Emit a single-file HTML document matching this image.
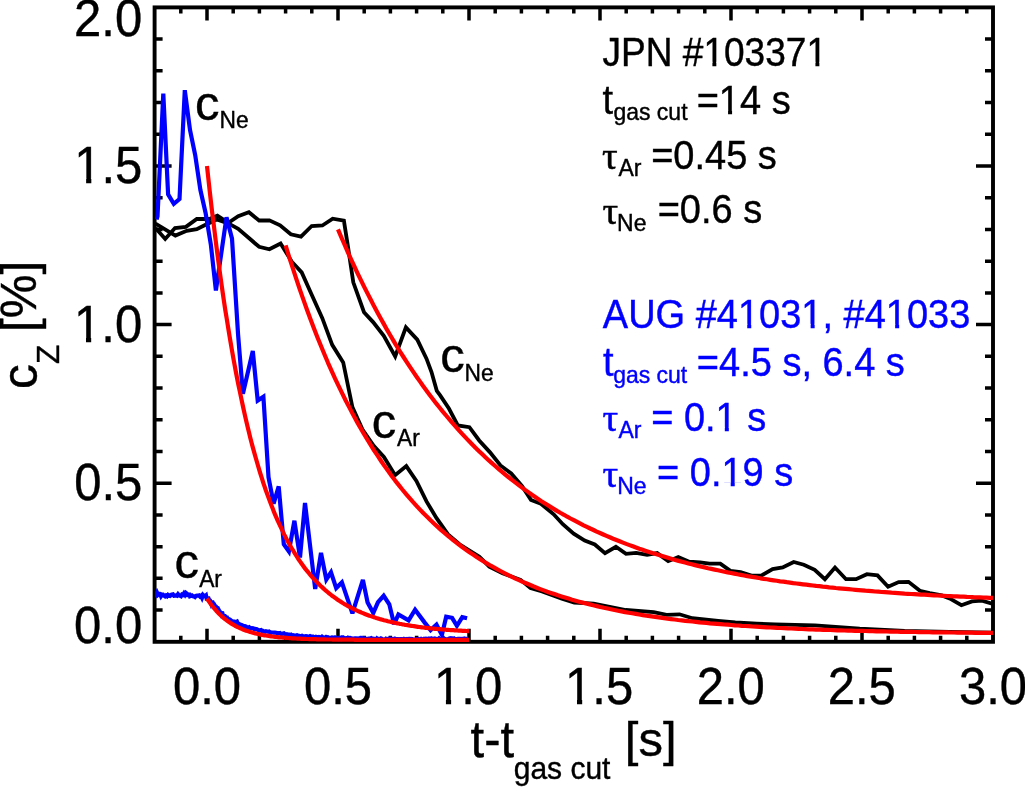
<!DOCTYPE html>
<html><head><meta charset="utf-8"><style>
html,body{margin:0;padding:0;background:#fff;overflow:hidden;}
svg{display:block;will-change:transform;}
text{font-family:"Liberation Sans", sans-serif;}
</style></head><body>
<svg width="1025" height="787" viewBox="0 0 1025 787">
<defs><clipPath id="plotclip"><rect x="155" y="7" width="838" height="635"/></clipPath></defs>
<rect width="1025" height="787" fill="#fff"/>
<path d="M180.80 641.80V635.80M180.80 7.40V13.40M207.00 641.80V628.80M207.00 7.40V20.40M233.20 641.80V635.80M233.20 7.40V13.40M259.40 641.80V635.80M259.40 7.40V13.40M285.60 641.80V635.80M285.60 7.40V13.40M311.80 641.80V635.80M311.80 7.40V13.40M338.00 641.80V628.80M338.00 7.40V20.40M364.20 641.80V635.80M364.20 7.40V13.40M390.40 641.80V635.80M390.40 7.40V13.40M416.60 641.80V635.80M416.60 7.40V13.40M442.80 641.80V635.80M442.80 7.40V13.40M469.00 641.80V628.80M469.00 7.40V20.40M495.20 641.80V635.80M495.20 7.40V13.40M521.40 641.80V635.80M521.40 7.40V13.40M547.60 641.80V635.80M547.60 7.40V13.40M573.80 641.80V635.80M573.80 7.40V13.40M600.00 641.80V628.80M600.00 7.40V20.40M626.20 641.80V635.80M626.20 7.40V13.40M652.40 641.80V635.80M652.40 7.40V13.40M678.60 641.80V635.80M678.60 7.40V13.40M704.80 641.80V635.80M704.80 7.40V13.40M731.00 641.80V628.80M731.00 7.40V20.40M757.20 641.80V635.80M757.20 7.40V13.40M783.40 641.80V635.80M783.40 7.40V13.40M809.60 641.80V635.80M809.60 7.40V13.40M835.80 641.80V635.80M835.80 7.40V13.40M862.00 641.80V628.80M862.00 7.40V20.40M888.20 641.80V635.80M888.20 7.40V13.40M914.40 641.80V635.80M914.40 7.40V13.40M940.60 641.80V635.80M940.60 7.40V13.40M966.80 641.80V635.80M966.80 7.40V13.40M154.60 610.08H162.60M993.00 610.08H985.00M154.60 578.36H162.60M993.00 578.36H985.00M154.60 546.64H162.60M993.00 546.64H985.00M154.60 514.92H162.60M993.00 514.92H985.00M154.60 483.20H171.60M993.00 483.20H976.00M154.60 451.48H162.60M993.00 451.48H985.00M154.60 419.76H162.60M993.00 419.76H985.00M154.60 388.04H162.60M993.00 388.04H985.00M154.60 356.32H162.60M993.00 356.32H985.00M154.60 324.60H171.60M993.00 324.60H976.00M154.60 292.88H162.60M993.00 292.88H985.00M154.60 261.16H162.60M993.00 261.16H985.00M154.60 229.44H162.60M993.00 229.44H985.00M154.60 197.72H162.60M993.00 197.72H985.00M154.60 166.00H171.60M993.00 166.00H976.00M154.60 134.28H162.60M993.00 134.28H985.00M154.60 102.56H162.60M993.00 102.56H985.00M154.60 70.84H162.60M993.00 70.84H985.00M154.60 39.12H162.60M993.00 39.12H985.00" stroke="#000" stroke-width="3.5" fill="none"/>
<rect x="154.60" y="7.40" width="838.40" height="634.40" stroke="#000" stroke-width="3.9" fill="none"/>
<text transform="translate(74.10,35.50) scale(1.0,1.04)" font-size="49" fill="#000"  stroke="#000" stroke-width="0.4">2.0</text>
<text transform="translate(74.24,182.90) scale(1.0,1.04)" font-size="49" fill="#000"  stroke="#000" stroke-width="0.4">1.5</text><g transform="translate(74.24,182.90) scale(1.0,1.04)"><rect x="1.91" y="-4.43" width="9.98" height="7.90" fill="#fff"/><rect x="17.08" y="-4.43" width="9.71" height="7.90" fill="#fff"/></g>
<text transform="translate(74.10,341.50) scale(1.0,1.04)" font-size="49" fill="#000"  stroke="#000" stroke-width="0.4">1.0</text><g transform="translate(74.10,341.50) scale(1.0,1.04)"><rect x="1.91" y="-4.43" width="9.98" height="7.90" fill="#fff"/><rect x="17.08" y="-4.43" width="9.71" height="7.90" fill="#fff"/></g>
<text transform="translate(74.24,500.10) scale(1.0,1.04)" font-size="49" fill="#000"  stroke="#000" stroke-width="0.4">0.5</text>
<text transform="translate(74.10,642.90) scale(1.0,1.04)" font-size="49" fill="#000"  stroke="#000" stroke-width="0.4">0.0</text>
<text transform="translate(172.94,704.20) scale(1.0,1.055)" font-size="49" fill="#000"  stroke="#000" stroke-width="0.4">0.0</text>
<text transform="translate(304.01,704.20) scale(1.0,1.055)" font-size="49" fill="#000"  stroke="#000" stroke-width="0.4">0.5</text>
<text transform="translate(434.03,704.20) scale(1.0,1.055)" font-size="49" fill="#000"  stroke="#000" stroke-width="0.4">1.0</text><g transform="translate(434.03,704.20) scale(1.0,1.055)"><rect x="1.91" y="-4.43" width="9.98" height="7.90" fill="#fff"/><rect x="17.08" y="-4.43" width="9.71" height="7.90" fill="#fff"/></g>
<text transform="translate(565.10,704.20) scale(1.0,1.055)" font-size="49" fill="#000"  stroke="#000" stroke-width="0.4">1.5</text><g transform="translate(565.10,704.20) scale(1.0,1.055)"><rect x="1.91" y="-4.43" width="9.98" height="7.90" fill="#fff"/><rect x="17.08" y="-4.43" width="9.71" height="7.90" fill="#fff"/></g>
<text transform="translate(696.67,704.20) scale(1.0,1.055)" font-size="49" fill="#000"  stroke="#000" stroke-width="0.4">2.0</text>
<text transform="translate(827.74,704.20) scale(1.0,1.055)" font-size="49" fill="#000"  stroke="#000" stroke-width="0.4">2.5</text>
<text transform="translate(958.97,704.20) scale(1.0,1.055)" font-size="49" fill="#000"  stroke="#000" stroke-width="0.4">3.0</text>
<text transform="translate(470.56,756.50) scale(1.0,1.05)" font-size="49" fill="#000"  stroke="#000" stroke-width="0.4">t-t</text>
<text transform="translate(513.74,778.80) scale(1.0,1.03)" font-size="30" fill="#000"  stroke="#000" stroke-width="0.4">gas cut</text>
<text transform="translate(624.81,755.80) scale(1.0,1.0)" font-size="49" fill="#000"  stroke="#000" stroke-width="0.4">[s]</text>
<text transform="translate(36.60,388.90) rotate(-90) scale(1.0,1.02)" font-size="49.5" stroke="#000" stroke-width="0.4">c</text>
<text transform="translate(59.20,363.90) rotate(-90) scale(1.0,1.02)" font-size="31.5" stroke="#000" stroke-width="0.4">Z</text>
<text transform="translate(35.80,331.91) rotate(-90) scale(1.0,1.0)" font-size="49.3" stroke="#000" stroke-width="0.4">[%]</text>
<text transform="translate(602.52,65.50) scale(0.975,1.075)" font-size="38" fill="#000"  stroke="#000" stroke-width="0.4">JPN #103371</text><g transform="translate(602.52,65.50) scale(0.975,1.075)"><rect x="104.96" y="-3.43" width="7.74" height="6.12" fill="#fff"/><rect x="116.73" y="-3.43" width="7.53" height="6.12" fill="#fff"/><rect x="210.63" y="-3.43" width="7.74" height="6.12" fill="#fff"/><rect x="222.40" y="-3.43" width="7.53" height="6.12" fill="#fff"/></g>
<text transform="translate(602.52,113.50) scale(1.0,1.075)" font-size="38" fill="#000"  stroke="#000" stroke-width="0.4">t</text>
<text transform="translate(613.43,120.40) scale(1.0,1.07)" font-size="23" fill="#000"  stroke="#000" stroke-width="0.4">gas cut</text>
<text transform="translate(696.64,113.50) scale(1.0,1.075)" font-size="38" fill="#000"  stroke="#000" stroke-width="0.4">=14 s</text><g transform="translate(696.64,113.50) scale(1.0,1.075)"><rect x="23.68" y="-3.43" width="7.74" height="6.12" fill="#fff"/><rect x="35.44" y="-3.43" width="7.53" height="6.12" fill="#fff"/></g>
<text transform="translate(601.94,169.00) scale(1.0,0.97)" font-size="39" fill="#000" style="font-family:'Liberation Serif', serif" stroke="#000" stroke-width="0.5">τ</text>
<text transform="translate(618.46,175.90) scale(1.0,1.07)" font-size="23" fill="#000"  stroke="#000" stroke-width="0.4">Ar</text>
<text transform="translate(651.14,168.50) scale(1.0,1.075)" font-size="38" fill="#000"  stroke="#000" stroke-width="0.4">=0.45 s</text>
<text transform="translate(602.44,223.80) scale(1.0,0.97)" font-size="39" fill="#000" style="font-family:'Liberation Serif', serif" stroke="#000" stroke-width="0.5">τ</text>
<text transform="translate(617.11,230.80) scale(1.0,1.07)" font-size="23" fill="#000"  stroke="#000" stroke-width="0.4">Ne</text>
<text transform="translate(657.64,223.30) scale(1.0,1.075)" font-size="38" fill="#000"  stroke="#000" stroke-width="0.4">=0.6 s</text>
<text transform="translate(602.83,327.50) scale(1.0,1.075)" font-size="38" fill="#0000ff"  stroke="#0000ff" stroke-width="0.4">AUG #41031, #41033</text><g transform="translate(602.83,327.50) scale(1.0,1.075)"><rect x="136.66" y="-3.43" width="7.74" height="6.12" fill="#fff"/><rect x="148.42" y="-3.43" width="7.53" height="6.12" fill="#fff"/><rect x="200.06" y="-3.43" width="7.74" height="6.12" fill="#fff"/><rect x="211.82" y="-3.43" width="7.53" height="6.12" fill="#fff"/><rect x="284.57" y="-3.43" width="7.74" height="6.12" fill="#fff"/><rect x="296.34" y="-3.43" width="7.53" height="6.12" fill="#fff"/></g>
<text transform="translate(602.92,376.00) scale(1.0,1.075)" font-size="38" fill="#0000ff"  stroke="#0000ff" stroke-width="0.4">t</text>
<text transform="translate(613.13,382.80) scale(1.0,1.07)" font-size="23" fill="#0000ff"  stroke="#0000ff" stroke-width="0.4">gas cut</text>
<text transform="translate(696.84,375.70) scale(1.0,1.075)" font-size="38" fill="#0000ff"  stroke="#0000ff" stroke-width="0.4">=4.5 s, 6.4 s</text>
<text transform="translate(602.44,431.30) scale(1.0,0.97)" font-size="39" fill="#0000ff" style="font-family:'Liberation Serif', serif" stroke="#0000ff" stroke-width="0.5">τ</text>
<text transform="translate(618.46,438.30) scale(1.0,1.07)" font-size="23" fill="#0000ff"  stroke="#0000ff" stroke-width="0.4">Ar</text>
<text transform="translate(651.14,430.60) scale(1.0,1.075)" font-size="38" fill="#0000ff"  stroke="#0000ff" stroke-width="0.4">= 0.1 s</text><g transform="translate(651.14,430.60) scale(1.0,1.075)"><rect x="65.92" y="-3.43" width="7.74" height="6.12" fill="#fff"/><rect x="77.69" y="-3.43" width="7.53" height="6.12" fill="#fff"/></g>
<text transform="translate(602.44,486.90) scale(1.0,0.97)" font-size="39" fill="#0000ff" style="font-family:'Liberation Serif', serif" stroke="#0000ff" stroke-width="0.5">τ</text>
<text transform="translate(617.21,493.80) scale(1.0,1.07)" font-size="23" fill="#0000ff"  stroke="#0000ff" stroke-width="0.4">Ne</text>
<text transform="translate(657.04,486.20) scale(1.0,1.075)" font-size="38" fill="#0000ff"  stroke="#0000ff" stroke-width="0.4">= 0.19 s</text><g transform="translate(657.04,486.20) scale(1.0,1.075)"><rect x="65.92" y="-3.43" width="7.74" height="6.12" fill="#fff"/><rect x="77.69" y="-3.43" width="7.53" height="6.12" fill="#fff"/></g>
<text transform="translate(194.92,120.00) scale(1.0,1.0)" font-size="49.0" fill="#000"  stroke="#000" stroke-width="0.4">c</text>
<text transform="translate(219.43,128.40) scale(1.0,1.05)" font-size="22.8" fill="#000"  stroke="#000" stroke-width="0.4">Ne</text>
<text transform="translate(440.22,372.30) scale(1.0,1.0)" font-size="49.0" fill="#000"  stroke="#000" stroke-width="0.4">c</text>
<text transform="translate(464.43,381.10) scale(1.0,1.05)" font-size="22.8" fill="#000"  stroke="#000" stroke-width="0.4">Ne</text>
<text transform="translate(371.82,437.60) scale(1.0,1.0)" font-size="49.0" fill="#000"  stroke="#000" stroke-width="0.4">c</text>
<text transform="translate(396.96,446.40) scale(1.0,1.05)" font-size="22.8" fill="#000"  stroke="#000" stroke-width="0.4">Ar</text>
<text transform="translate(174.42,578.20) scale(1.0,1.0)" font-size="49.0" fill="#000"  stroke="#000" stroke-width="0.4">c</text>
<text transform="translate(199.16,586.80) scale(1.0,1.05)" font-size="22.8" fill="#000"  stroke="#000" stroke-width="0.4">Ar</text>
<g clip-path="url(#plotclip)"><path d="M155.5 228.0 L165.2 239.0 L175.0 228.0 L185.9 226.9 L196.8 219.0 L209.3 219.0 L217.4 215.7 L228.4 222.8 L238.2 216.1 L248.9 212.2 L259.1 220.5 L269.4 220.3 L280.1 225.4 L290.8 234.3 L301.0 236.7 L311.7 226.0 L322.4 225.5 L332.7 218.7 L343.9 220.6 L348.3 248.9 L353.3 282.4 L364.0 312.2 L373.1 322.1 L383.8 335.8 L395.2 356.4 L405.9 327.4 L417.3 339.6 L426.5 358.7 L431.5 372.0 L436.8 390.8 L440.0 395.1 L448.9 408.5 L457.8 425.4 L469.4 427.2 L479.2 440.5 L489.8 452.1 L500.5 465.4 L511.2 473.4 L521.9 485.9 L531.0 499.9 L540.9 503.8 L553.7 514.3 L562.8 524.2 L573.7 533.6 L584.7 540.6 L594.8 544.5 L605.0 553.1 L615.9 546.8 L626.0 553.9 L636.2 552.8 L647.1 554.9 L657.2 553.1 L668.2 561.2 L678.3 557.0 L689.2 561.7 L700.2 562.4 L709.4 563.6 L720.3 563.6 L730.4 570.9 L740.6 572.1 L751.5 575.6 L761.7 575.3 L772.6 569.0 L782.7 567.5 L793.7 562.0 L803.8 564.7 L814.7 569.8 L824.9 579.2 L835.0 567.5 L846.0 579.2 L856.1 579.2 L866.9 574.2 L877.5 575.4 L888.1 586.7 L898.7 582.1 L908.5 581.8 L919.9 590.8 L929.7 593.1 L941.8 595.4 L950.9 599.1 L961.4 605.2 L972.0 601.4 L981.9 600.7 L993.0 603.9" stroke="#000" stroke-width="3.8" fill="none" stroke-linejoin="miter" stroke-miterlimit="3" />
<path d="M155.5 223.6 L175.4 235.6 L186.7 230.8 L196.8 229.2 L204.6 225.3 L210.9 222.2 L216.7 219.5 L228.4 223.4 L238.2 228.8 L248.9 238.0 L259.1 246.8 L269.4 249.3 L280.6 243.5 L291.8 261.7 L301.7 272.4 L311.6 294.5 L322.3 318.1 L332.2 344.8 L343.2 362.4 L352.4 407.1 L362.5 429.5 L373.7 445.8 L383.9 456.9 L395.1 475.2 L406.3 466.1 L416.4 481.0 L426.5 501.4 L436.4 517.9 L448.0 534.4 L459.5 544.3 L479.4 556.7 L489.3 566.6 L502.5 573.2 L520.6 579.8 L530.5 588.1 L542.1 591.4 L561.9 598.8 L574.3 602.5 L593.6 603.6 L625.8 610.0 L653.7 612.2 L666.6 614.8 L679.5 614.3 L692.4 618.2 L718.1 620.8 L735.3 622.5 L756.8 623.6 L775.0 624.4 L814.9 625.3 L859.7 628.7 L904.6 630.9 L949.5 632.0 L993.0 632.7" stroke="#000" stroke-width="3.8" fill="none" stroke-linejoin="miter" stroke-miterlimit="3" />
<path d="M156.6 219.5 L157.5 216.5 L163.3 93.7 L168.1 194.3 L173.8 203.8 L179.5 199.0 L184.8 90.2 L190.0 130.0 L195.2 155.0 L200.4 190.0 L205.6 213.0 L210.9 245.0 L215.9 290.4 L226.5 217.3 L232.0 238.6 L238.1 334.8 L242.9 393.8 L252.8 351.0 L257.7 400.5 L263.4 396.7 L268.5 477.2 L273.6 503.7 L278.7 486.4 L283.8 544.3 L288.9 551.4 L294.4 520.7 L300.0 557.5 L305.0 503.0 L315.2 589.0 L321.0 552.9 L326.3 579.5 L331.0 572.3 L336.2 588.1 L341.9 582.4 L352.4 613.4 L362.9 579.9 L367.6 602.4 L373.3 612.9 L378.0 602.2 L383.7 595.8 L389.3 604.3 L394.1 624.2 L398.4 614.5 L408.6 620.4 L415.1 609.7 L424.7 622.6 L430.6 630.1 L436.5 624.7 L441.9 634.9 L446.2 616.7 L452.1 617.8 L456.9 625.8 L462.3 617.2 L467.1 618.3" stroke="#0000ff" stroke-width="4.2" fill="none" stroke-linejoin="miter" stroke-miterlimit="3" />
<path d="M155.0 593.3 L156.0 594.6 L157.0 592.6 L158.0 594.7 L159.0 593.7 L160.0 593.9 L161.0 596.2 L162.0 594.7 L163.0 594.7 L164.0 595.7 L165.0 596.3 L166.0 595.4 L167.0 596.2 L168.0 594.9 L169.0 595.7 L170.0 595.9 L171.0 594.9 L172.0 594.6 L173.0 594.4 L174.0 595.7 L175.0 595.6 L176.0 595.4 L177.0 595.7 L178.0 594.2 L179.0 595.4 L180.0 595.7 L181.0 596.2 L182.0 594.5 L183.0 594.9 L184.0 593.3 L185.0 594.8 L186.0 593.0 L187.0 593.8 L188.0 596.4 L189.0 593.2 L190.0 596.3 L191.0 595.9 L192.0 595.4 L193.0 596.3 L194.0 596.4 L195.0 597.0 L196.0 595.9 L197.0 595.6 L198.0 595.7 L199.0 595.4 L200.0 596.4 L201.0 595.7 L202.0 597.7 L203.0 595.0 L204.0 596.0 L205.0 596.4 L206.0 595.5 L207.0 600.3 L208.0 596.9 L209.0 599.8 L210.0 600.4 L211.0 603.2 L212.0 600.7 L213.0 604.6 L214.0 604.2 L215.0 605.8 L216.0 606.6 L217.0 608.8 L218.0 608.5 L219.0 610.4 L220.0 611.8 L221.0 613.9 L222.0 611.7 L223.0 615.6 L224.0 616.2 L225.0 616.2 L226.0 617.4 L227.0 617.5 L228.0 619.6 L229.0 619.3 L230.0 619.7 L231.0 620.4 L232.0 621.1 L233.0 621.7 L234.0 621.7 L235.0 623.7 L236.0 622.0 L237.0 621.5 L238.0 623.6 L239.0 624.0 L240.0 624.6 L241.0 624.7 L242.0 625.1 L243.0 625.7 L244.0 626.3 L245.0 626.1 L246.0 626.5 L247.0 627.6 L248.0 627.4 L249.0 627.1 L250.0 628.6 L251.0 628.3 L252.0 628.1 L253.0 628.2 L254.0 629.0 L255.0 628.9 L256.0 629.1 L257.0 629.3 L258.0 629.9 L259.0 630.6 L260.0 630.2 L261.0 630.0 L262.0 631.0 L263.0 630.9 L264.0 631.4 L265.0 631.7 L266.0 631.3 L267.0 631.5 L268.0 631.7 L269.0 631.5 L270.0 632.3 L271.0 632.7 L272.0 632.5 L273.0 632.5 L274.0 632.7 L275.0 632.6 L276.0 632.8 L277.0 633.1 L278.0 633.1 L279.0 633.3 L280.0 633.1 L281.0 633.9 L282.0 633.9 L283.0 633.6 L284.0 633.3 L285.0 634.2 L286.0 634.8 L287.0 634.2 L288.0 634.5 L289.0 634.6 L290.0 635.1 L291.0 634.7 L292.0 635.5 L293.0 635.2 L294.0 635.7 L295.0 635.5 L296.0 635.5 L297.0 635.2 L298.0 635.5 L299.0 635.7 L300.0 636.1 L301.0 636.0 L302.0 635.8 L303.0 636.2 L304.0 636.5 L305.0 636.2 L306.0 636.1 L307.0 636.2 L308.0 636.7 L309.0 636.7 L310.0 636.2 L311.0 636.8 L312.0 636.5 L313.0 636.5 L314.0 637.3 L315.0 637.2 L316.0 636.7 L317.0 637.1 L318.0 637.3 L319.0 636.9 L320.0 637.2 L321.0 637.5 L322.0 636.7 L323.0 637.5 L324.0 637.7 L325.0 637.6 L326.0 637.0 L327.0 637.6 L328.0 637.3 L329.0 637.8 L330.0 637.9 L331.0 637.8 L332.0 637.5 L333.0 637.6 L334.0 638.1 L335.0 637.5 L336.0 638.1 L337.0 638.1 L338.0 637.9 L339.0 638.8 L340.0 638.1 L341.0 638.8 L342.0 637.4 L343.0 637.4 L344.0 638.5 L345.0 638.5 L346.0 638.2 L347.0 638.3 L348.0 637.7 L349.0 638.1 L350.0 638.0 L351.0 638.3 L352.0 638.7 L353.0 638.5 L354.0 638.6 L355.0 638.3 L356.0 638.4 L357.0 638.6 L358.0 638.5 L359.0 639.0 L360.0 638.3 L361.0 639.3 L362.0 638.3 L363.0 639.1 L364.0 638.5 L365.0 639.3 L366.0 638.8 L367.0 638.9 L368.0 639.1 L369.0 638.6 L370.0 638.5 L371.0 638.2 L372.0 639.4 L373.0 638.7 L374.0 638.8 L375.0 639.0 L376.0 639.7 L377.0 638.4 L378.0 639.1 L379.0 638.9 L380.0 639.2 L381.0 638.4 L382.0 638.9 L383.0 639.3 L384.0 639.6 L385.0 639.6 L386.0 638.7 L387.0 639.1 L388.0 639.0 L389.0 638.6 L390.0 638.6 L391.0 639.3 L392.0 639.2 L393.0 639.0 L394.0 639.5 L395.0 638.7 L396.0 639.3 L397.0 639.1 L398.0 639.1 L399.0 639.3 L400.0 639.2 L401.0 639.2 L402.0 639.2 L403.0 639.8 L404.0 639.0 L405.0 639.5 L406.0 639.4 L407.0 639.0 L408.0 639.4 L409.0 638.9 L410.0 639.6 L411.0 638.9 L412.0 639.0 L413.0 639.3 L414.0 639.5 L415.0 639.5 L416.0 639.5 L417.0 639.1 L418.0 638.9 L419.0 639.4 L420.0 639.3 L421.0 638.9 L422.0 639.5 L423.0 639.2 L424.0 638.8 L425.0 639.3 L426.0 638.7 L427.0 638.8 L428.0 639.3 L429.0 638.6 L430.0 639.1 L431.0 638.6 L432.0 639.4 L433.0 638.8 L434.0 639.1 L435.0 638.5 L436.0 638.9 L437.0 639.4 L438.0 639.2 L439.0 638.4 L440.0 639.4 L441.0 639.3 L442.0 638.9 L443.0 639.5 L444.0 638.6 L445.0 639.0 L446.0 639.4 L447.0 639.4 L448.0 639.4 L449.0 638.6 L450.0 638.3 L451.0 639.1 L452.0 638.4 L453.0 638.9 L454.0 638.5 L455.0 639.3 L456.0 639.2 L457.0 639.1 L458.0 638.9 L459.0 638.9 L460.0 638.8 L461.0 639.0 L462.0 638.9 L463.0 639.0 L464.0 638.7 L465.0 639.5 L466.0 638.9 L467.0 639.3 L468.0 639.3" stroke="#0000ff" stroke-width="4.2" fill="none" stroke-linejoin="miter" stroke-miterlimit="3" />
<path d="M207.0 166.0 L208.3 178.1 L209.6 190.0 L210.9 201.5 L212.2 212.7 L213.6 223.6 L214.9 234.3 L216.2 244.7 L217.5 254.8 L218.8 264.6 L220.1 274.2 L221.4 283.5 L222.7 292.6 L224.0 301.5 L225.3 310.1 L226.7 318.5 L228.0 326.7 L229.3 334.6 L230.6 342.4 L231.9 350.0 L233.2 357.3 L234.5 364.5 L235.8 371.5 L237.1 378.3 L238.4 384.9 L239.8 391.4 L241.1 397.7 L242.4 403.8 L243.7 409.8 L245.0 415.6 L246.3 421.2 L247.6 426.8 L248.9 432.1 L250.2 437.4 L251.5 442.5 L252.8 447.4 L254.2 452.3 L255.5 457.0 L256.8 461.5 L258.1 466.0 L259.4 470.4 L260.7 474.6 L262.0 478.7 L263.3 482.8 L264.6 486.7 L265.9 490.5 L267.3 494.2 L268.6 497.8 L269.9 501.3 L271.2 504.8 L272.5 508.1 L273.8 511.4 L275.1 514.6 L276.4 517.6 L277.7 520.7 L279.1 523.6 L280.4 526.4 L281.7 529.2 L283.0 531.9 L284.3 534.6 L285.6 537.1 L286.9 539.7 L288.2 542.1 L289.5 544.5 L290.8 546.8 L292.1 549.0 L293.5 551.2 L294.8 553.4 L296.1 555.4 L297.4 557.5 L298.7 559.5 L300.0 561.4 L301.3 563.3 L302.6 565.1 L303.9 566.9 L305.2 568.6 L306.6 570.3 L307.9 571.9 L309.2 573.5 L310.5 575.1 L311.8 576.6 L313.1 578.1 L314.4 579.5 L315.7 580.9 L317.0 582.3 L318.4 583.6 L319.7 584.9 L321.0 586.2 L322.3 587.4 L323.6 588.6 L324.9 589.8 L326.2 590.9 L327.5 592.0 L328.8 593.1 L330.1 594.2 L331.4 595.2 L332.8 596.2 L334.1 597.1 L335.4 598.1 L336.7 599.0 L338.0 599.9 L339.3 600.8 L340.6 601.6 L341.9 602.5 L343.2 603.3 L344.6 604.1 L345.9 604.8 L347.2 605.6 L348.5 606.3 L349.8 607.0 L351.1 607.7 L352.4 608.4 L353.7 609.0 L355.0 609.7 L356.3 610.3 L357.6 610.9 L359.0 611.5 L360.3 612.0 L361.6 612.6 L362.9 613.1 L364.2 613.7 L365.5 614.2 L366.8 614.7 L368.1 615.2 L369.4 615.7 L370.8 616.1 L372.1 616.6 L373.4 617.0 L374.7 617.4 L376.0 617.9 L377.3 618.3 L378.6 618.7 L379.9 619.1 L381.2 619.4 L382.5 619.8 L383.9 620.2 L385.2 620.5 L386.5 620.8 L387.8 621.2 L389.1 621.5 L390.4 621.8 L391.7 622.1 L393.0 622.4 L394.3 622.7 L395.6 623.0 L396.9 623.3 L398.3 623.5 L399.6 623.8 L400.9 624.0 L402.2 624.3 L403.5 624.5 L404.8 624.8 L406.1 625.0 L407.4 625.2 L408.7 625.4 L410.1 625.6 L411.4 625.8 L412.7 626.0 L414.0 626.2 L415.3 626.4 L416.6 626.6 L417.9 626.8 L419.2 627.0 L420.5 627.1 L421.8 627.3 L423.1 627.5 L424.5 627.6 L425.8 627.8 L427.1 627.9 L428.4 628.1 L429.7 628.2 L431.0 628.4 L432.3 628.5 L433.6 628.6 L434.9 628.8 L436.2 628.9 L437.6 629.0 L438.9 629.1 L440.2 629.2 L441.5 629.3 L442.8 629.5 L444.1 629.6 L445.4 629.7 L446.7 629.8 L448.0 629.9 L449.4 630.0 L450.7 630.1 L452.0 630.1 L453.3 630.2 L454.6 630.3 L455.9 630.4 L457.2 630.5 L458.5 630.6 L459.8 630.6 L461.1 630.7 L462.4 630.8 L463.8 630.9 L465.1 630.9 L466.4 631.0 L467.7 631.1 L469.0 631.1" stroke="#ff0000" stroke-width="4.2" fill="none" stroke-linejoin="round"/>
<path d="M207.0 598.5 L208.3 600.5 L209.6 602.4 L210.9 604.3 L212.2 606.0 L213.6 607.7 L214.9 609.2 L216.2 610.7 L217.5 612.1 L218.8 613.5 L220.1 614.8 L221.4 616.0 L222.7 617.2 L224.0 618.3 L225.3 619.3 L226.7 620.3 L228.0 621.3 L229.3 622.2 L230.6 623.1 L231.9 623.9 L233.2 624.7 L234.5 625.4 L235.8 626.1 L237.1 626.8 L238.4 627.4 L239.8 628.0 L241.1 628.6 L242.4 629.2 L243.7 629.7 L245.0 630.2 L246.3 630.7 L247.6 631.1 L248.9 631.5 L250.2 631.9 L251.5 632.3 L252.8 632.7 L254.2 633.1 L255.5 633.4 L256.8 633.7 L258.1 634.0 L259.4 634.3 L260.7 634.6 L262.0 634.8 L263.3 635.1 L264.6 635.3 L265.9 635.5 L267.3 635.7 L268.6 635.9 L269.9 636.1 L271.2 636.3 L272.5 636.5 L273.8 636.7 L275.1 636.8 L276.4 637.0 L277.7 637.1 L279.1 637.3 L280.4 637.4 L281.7 637.5 L283.0 637.6 L284.3 637.7 L285.6 637.8 L286.9 637.9 L288.2 638.0 L289.5 638.1 L290.8 638.2 L292.1 638.3 L293.5 638.4 L294.8 638.4 L296.1 638.5 L297.4 638.6 L298.7 638.6 L300.0 638.7 L301.3 638.8 L302.6 638.8 L303.9 638.9 L305.2 638.9 L306.6 639.0 L307.9 639.0 L309.2 639.1 L310.5 639.1 L311.8 639.1 L313.1 639.2 L314.4 639.2 L315.7 639.2 L317.0 639.3 L318.4 639.3 L319.7 639.3 L321.0 639.4 L322.3 639.4 L323.6 639.4 L324.9 639.4 L326.2 639.5 L327.5 639.5 L328.8 639.5 L330.1 639.5 L331.4 639.5 L332.8 639.6 L334.1 639.6 L335.4 639.6 L336.7 639.6 L338.0 639.6 L339.3 639.6 L340.6 639.6 L341.9 639.7 L343.2 639.7 L344.6 639.7 L345.9 639.7 L347.2 639.7 L348.5 639.7 L349.8 639.7 L351.1 639.7 L352.4 639.7 L353.7 639.7 L355.0 639.8 L356.3 639.8 L357.6 639.8 L359.0 639.8 L360.3 639.8 L361.6 639.8 L362.9 639.8 L364.2 639.8 L365.5 639.8 L366.8 639.8 L368.1 639.8 L369.4 639.8 L370.8 639.8 L372.1 639.8 L373.4 639.8 L374.7 639.8 L376.0 639.8 L377.3 639.8 L378.6 639.8 L379.9 639.8 L381.2 639.8 L382.5 639.8 L383.9 639.8 L385.2 639.9 L386.5 639.9 L387.8 639.9 L389.1 639.9 L390.4 639.9 L391.7 639.9 L393.0 639.9 L394.3 639.9 L395.6 639.9 L396.9 639.9 L398.3 639.9 L399.6 639.9 L400.9 639.9 L402.2 639.9 L403.5 639.9 L404.8 639.9 L406.1 639.9 L407.4 639.9 L408.7 639.9 L410.1 639.9 L411.4 639.9 L412.7 639.9 L414.0 639.9 L415.3 639.9 L416.6 639.9 L417.9 639.9 L419.2 639.9 L420.5 639.9 L421.8 639.9 L423.1 639.9 L424.5 639.9 L425.8 639.9 L427.1 639.9 L428.4 639.9 L429.7 639.9 L431.0 639.9 L432.3 639.9 L433.6 639.9 L434.9 639.9 L436.2 639.9 L437.6 639.9 L438.9 639.9 L440.2 639.9 L441.5 639.9 L442.8 639.9 L444.1 639.9 L445.4 639.9 L446.7 639.9 L448.0 639.9 L449.4 639.9 L450.7 639.9 L452.0 639.9 L453.3 639.9 L454.6 639.9 L455.9 639.9 L457.2 639.9 L458.5 639.9 L459.8 639.9 L461.1 639.9 L462.4 639.9 L463.8 639.9 L465.1 639.9 L466.4 639.9 L467.7 639.9 L469.0 639.9" stroke="#ff0000" stroke-width="4.2" fill="none" stroke-linejoin="round"/>
<path d="M285.6 245.3 L289.1 256.8 L292.7 267.9 L296.2 278.7 L299.7 289.2 L303.3 299.4 L306.8 309.3 L310.4 318.9 L313.9 328.2 L317.4 337.2 L321.0 346.0 L324.5 354.5 L328.0 362.8 L331.6 370.8 L335.1 378.6 L338.7 386.1 L342.2 393.4 L345.7 400.5 L349.3 407.4 L352.8 414.1 L356.3 420.6 L359.9 426.9 L363.4 433.0 L367.0 439.0 L370.5 444.7 L374.0 450.3 L377.6 455.7 L381.1 461.0 L384.6 466.1 L388.2 471.1 L391.7 475.9 L395.2 480.6 L398.8 485.1 L402.3 489.5 L405.9 493.8 L409.4 497.9 L412.9 501.9 L416.5 505.8 L420.0 509.6 L423.5 513.3 L427.1 516.8 L430.6 520.3 L434.2 523.7 L437.7 526.9 L441.2 530.1 L444.8 533.1 L448.3 536.1 L451.8 539.0 L455.4 541.8 L458.9 544.5 L462.5 547.2 L466.0 549.7 L469.5 552.2 L473.1 554.6 L476.6 557.0 L480.1 559.2 L483.7 561.5 L487.2 563.6 L490.7 565.7 L494.3 567.7 L497.8 569.6 L501.4 571.5 L504.9 573.4 L508.4 575.2 L512.0 576.9 L515.5 578.6 L519.0 580.2 L522.6 581.8 L526.1 583.3 L529.7 584.8 L533.2 586.3 L536.7 587.7 L540.3 589.1 L543.8 590.4 L547.3 591.7 L550.9 592.9 L554.4 594.1 L557.9 595.3 L561.5 596.4 L565.0 597.5 L568.6 598.6 L572.1 599.7 L575.6 600.7 L579.2 601.7 L582.7 602.6 L586.2 603.5 L589.8 604.4 L593.3 605.3 L596.9 606.1 L600.4 607.0 L603.9 607.8 L607.5 608.5 L611.0 609.3 L614.5 610.0 L618.1 610.7 L621.6 611.4 L625.2 612.1 L628.7 612.7 L632.2 613.3 L635.8 613.9 L639.3 614.5 L642.8 615.1 L646.4 615.7 L649.9 616.2 L653.4 616.7 L657.0 617.2 L660.5 617.7 L664.1 618.2 L667.6 618.7 L671.1 619.1 L674.7 619.5 L678.2 620.0 L681.7 620.4 L685.3 620.8 L688.8 621.2 L692.4 621.5 L695.9 621.9 L699.4 622.3 L703.0 622.6 L706.5 622.9 L710.0 623.3 L713.6 623.6 L717.1 623.9 L720.7 624.2 L724.2 624.5 L727.7 624.7 L731.3 625.0 L734.8 625.3 L738.3 625.5 L741.9 625.8 L745.4 626.0 L748.9 626.2 L752.5 626.5 L756.0 626.7 L759.6 626.9 L763.1 627.1 L766.6 627.3 L770.2 627.5 L773.7 627.7 L777.2 627.9 L780.8 628.0 L784.3 628.2 L787.9 628.4 L791.4 628.5 L794.9 628.7 L798.5 628.9 L802.0 629.0 L805.5 629.1 L809.1 629.3 L812.6 629.4 L816.1 629.6 L819.7 629.7 L823.2 629.8 L826.8 629.9 L830.3 630.0 L833.8 630.2 L837.4 630.3 L840.9 630.4 L844.4 630.5 L848.0 630.6 L851.5 630.7 L855.1 630.8 L858.6 630.9 L862.1 630.9 L865.7 631.0 L869.2 631.1 L872.7 631.2 L876.3 631.3 L879.8 631.4 L883.4 631.4 L886.9 631.5 L890.4 631.6 L894.0 631.6 L897.5 631.7 L901.0 631.8 L904.6 631.8 L908.1 631.9 L911.6 631.9 L915.2 632.0 L918.7 632.1 L922.3 632.1 L925.8 632.2 L929.3 632.2 L932.9 632.3 L936.4 632.3 L939.9 632.4 L943.5 632.4 L947.0 632.4 L950.6 632.5 L954.1 632.5 L957.6 632.6 L961.2 632.6 L964.7 632.6 L968.2 632.7 L971.8 632.7 L975.3 632.8 L978.9 632.8 L982.4 632.8 L985.9 632.8 L989.5 632.9 L993.0 632.9" stroke="#ff0000" stroke-width="4.2" fill="none" stroke-linejoin="round"/>
<path d="M338.0 229.4 L341.3 237.2 L344.6 244.7 L347.8 252.1 L351.1 259.4 L354.4 266.5 L357.6 273.4 L360.9 280.2 L364.2 286.9 L367.5 293.4 L370.8 299.8 L374.0 306.1 L377.3 312.2 L380.6 318.2 L383.9 324.1 L387.1 329.9 L390.4 335.5 L393.7 341.1 L396.9 346.5 L400.2 351.8 L403.5 357.0 L406.8 362.1 L410.1 367.1 L413.3 371.9 L416.6 376.7 L419.9 381.4 L423.1 386.0 L426.4 390.5 L429.7 394.9 L433.0 399.2 L436.2 403.4 L439.5 407.5 L442.8 411.6 L446.1 415.5 L449.4 419.4 L452.6 423.2 L455.9 426.9 L459.2 430.6 L462.4 434.1 L465.7 437.6 L469.0 441.1 L472.3 444.4 L475.5 447.7 L478.8 450.9 L482.1 454.1 L485.4 457.2 L488.6 460.2 L491.9 463.1 L495.2 466.0 L498.5 468.9 L501.8 471.7 L505.0 474.4 L508.3 477.0 L511.6 479.7 L514.9 482.2 L518.1 484.7 L521.4 487.2 L524.7 489.6 L528.0 491.9 L531.2 494.2 L534.5 496.5 L537.8 498.7 L541.0 500.9 L544.3 503.0 L547.6 505.1 L550.9 507.1 L554.1 509.1 L557.4 511.1 L560.7 513.0 L564.0 514.8 L567.2 516.7 L570.5 518.5 L573.8 520.2 L577.1 521.9 L580.4 523.6 L583.6 525.3 L586.9 526.9 L590.2 528.5 L593.5 530.0 L596.7 531.6 L600.0 533.0 L603.3 534.5 L606.5 535.9 L609.8 537.3 L613.1 538.7 L616.4 540.0 L619.6 541.3 L622.9 542.6 L626.2 543.9 L629.5 545.1 L632.8 546.3 L636.0 547.5 L639.3 548.7 L642.6 549.8 L645.9 550.9 L649.1 552.0 L652.4 553.1 L655.7 554.1 L659.0 555.1 L662.2 556.1 L665.5 557.1 L668.8 558.1 L672.0 559.0 L675.3 560.0 L678.6 560.9 L681.9 561.7 L685.1 562.6 L688.4 563.5 L691.7 564.3 L695.0 565.1 L698.2 565.9 L701.5 566.7 L704.8 567.4 L708.1 568.2 L711.4 568.9 L714.6 569.6 L717.9 570.3 L721.2 571.0 L724.5 571.7 L727.7 572.4 L731.0 573.0 L734.3 573.6 L737.5 574.3 L740.8 574.9 L744.1 575.5 L747.4 576.1 L750.7 576.6 L753.9 577.2 L757.2 577.7 L760.5 578.3 L763.8 578.8 L767.0 579.3 L770.3 579.8 L773.6 580.3 L776.8 580.8 L780.1 581.3 L783.4 581.7 L786.7 582.2 L790.0 582.6 L793.2 583.1 L796.5 583.5 L799.8 583.9 L803.0 584.3 L806.3 584.7 L809.6 585.1 L812.9 585.5 L816.2 585.9 L819.4 586.2 L822.7 586.6 L826.0 586.9 L829.2 587.3 L832.5 587.6 L835.8 588.0 L839.1 588.3 L842.3 588.6 L845.6 588.9 L848.9 589.2 L852.2 589.5 L855.5 589.8 L858.7 590.1 L862.0 590.4 L865.3 590.7 L868.5 590.9 L871.8 591.2 L875.1 591.5 L878.4 591.7 L881.7 592.0 L884.9 592.2 L888.2 592.4 L891.5 592.7 L894.8 592.9 L898.0 593.1 L901.3 593.3 L904.6 593.6 L907.8 593.8 L911.1 594.0 L914.4 594.2 L917.7 594.4 L921.0 594.6 L924.2 594.7 L927.5 594.9 L930.8 595.1 L934.0 595.3 L937.3 595.5 L940.6 595.6 L943.9 595.8 L947.2 596.0 L950.4 596.1 L953.7 596.3 L957.0 596.4 L960.2 596.6 L963.5 596.7 L966.8 596.9 L970.1 597.0 L973.3 597.2 L976.6 597.3 L979.9 597.4 L983.2 597.6 L986.5 597.7 L989.7 597.8 L993.0 597.9" stroke="#ff0000" stroke-width="4.2" fill="none" stroke-linejoin="round"/></g>
</svg>
</body></html>
